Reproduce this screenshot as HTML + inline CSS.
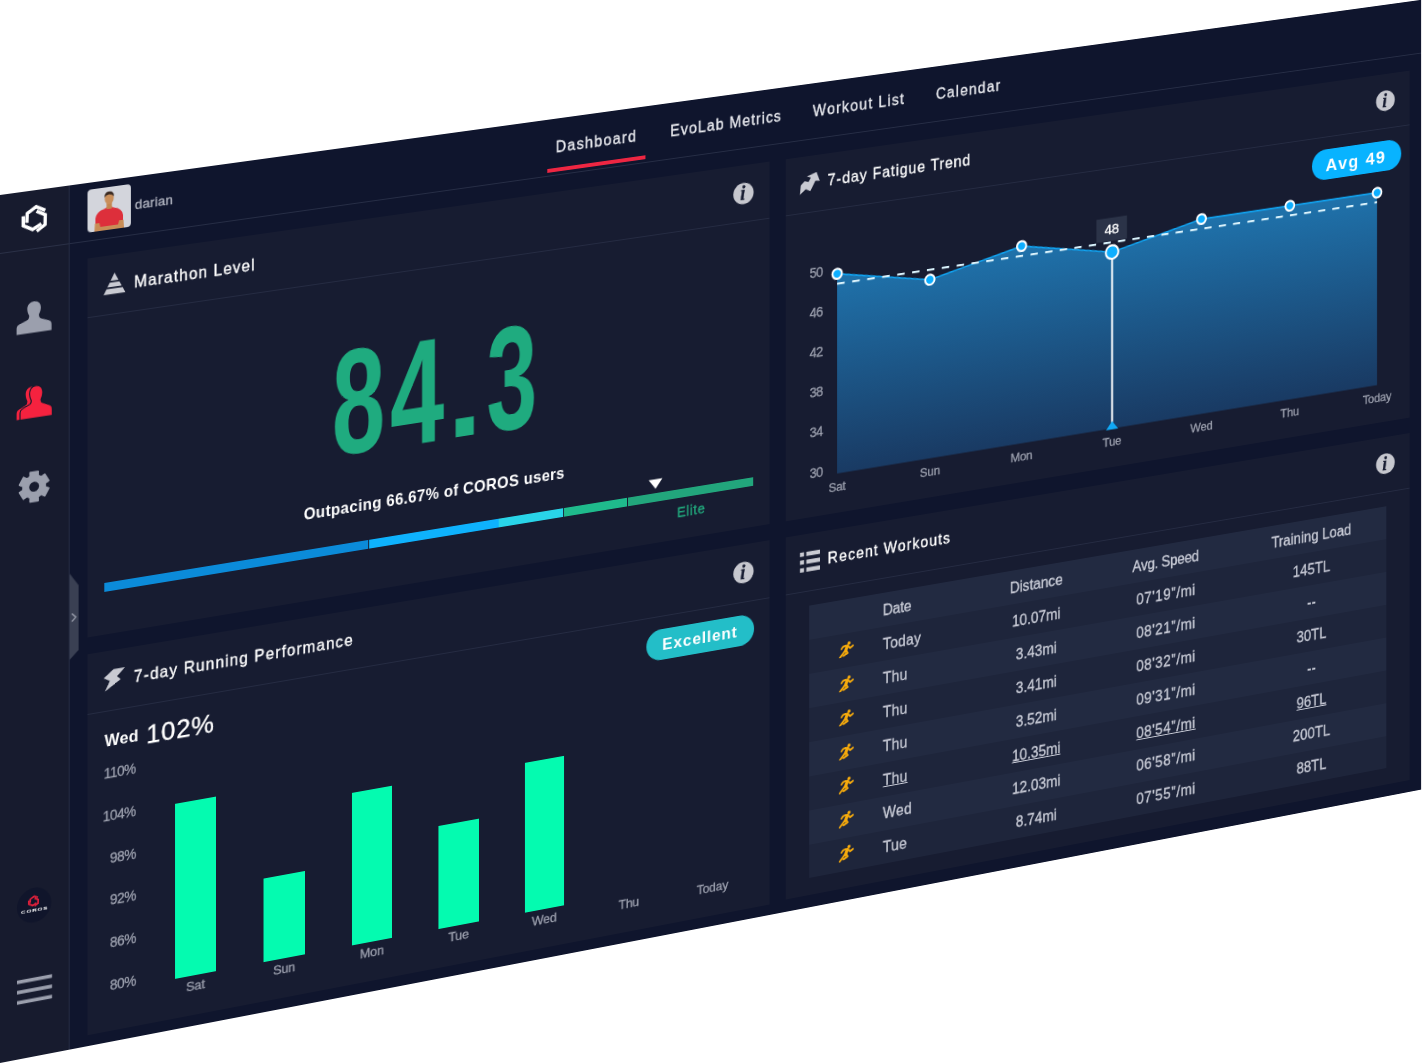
<!DOCTYPE html>
<html lang="en">
<head>
<meta charset="utf-8">
<title>COROS Training Hub</title>
<style>
html,body{margin:0;padding:0;background:#fff;}
body{width:1422px;height:1064px;overflow:hidden;position:relative;font-family:"Liberation Sans",sans-serif;}
#stage{position:absolute;left:0;top:0;width:1561.6px;height:867.5px;background:#0f152d;outline:1px solid transparent;transform-origin:0 0;
 transform:matrix3d(1,-0.124952,0,0.0000634371,0,1,0,0,0,0,1,0,0,195,0,1);overflow:hidden;color:#fff;}
#stage *{box-sizing:border-box;}
.abs{position:absolute;}
.tx{position:absolute;white-space:nowrap;line-height:1;-webkit-text-stroke:0.3px currentColor;}
#sidebar{position:absolute;left:0;top:0;width:70px;height:100%;background:#171b2e;border-right:1px solid #262c42;}
#sidebar .logo{position:absolute;left:0;top:0;width:69px;height:59px;border-bottom:1px solid #2a3046;}
#header{position:absolute;left:70px;top:0;right:0;height:59px;border-bottom:1px solid #262d45;background:#0f152d;}
.avatar{position:absolute;left:87.7px;top:7px;width:44px;height:43px;border-radius:4px;overflow:hidden;}
.avatar svg{display:block;}
.panel{position:absolute;background:#171c31;}
.ptitle{position:absolute;left:0;top:0;right:0;height:59px;border-bottom:1px solid #252b42;}
.pill{position:absolute;border-radius:20px;}
.big{position:absolute;font-weight:bold;line-height:1;color:#1fab7f;transform-origin:0 84.65%;white-space:nowrap;}
.ii{font-family:"Liberation Serif",serif;font-weight:bold;font-style:italic;font-size:20px;color:#171c31;-webkit-text-stroke:0.4px #171c31;}
</style>
</head>
<body>
<div id="stage">
<div id="sidebar"><div class="logo"></div></div>
<div id="header">
</div>
<div class="avatar"><svg width="44" height="43" viewBox="0 0 44 43"><rect width="44" height="43" fill="#d3d5dc"/><path d="M8 43 L8 30 Q9 23 17 21.5 L20 20 L24 20 L27 21.5 Q35 23 36 30 L36 43 Z" fill="#dd2f3b"/><path d="M7 43 L7.5 35 L12 35 L13 39 L31 39 L32 35 L36.5 35 L37 43 Z" fill="#c88d57"/><rect x="19.3" y="15" width="5.4" height="7" fill="#c48650"/><ellipse cx="22" cy="11.5" rx="4.6" ry="5.8" fill="#c98f5b"/><path d="M17.2 10 Q17 4.5 22 4.5 Q27 4.5 26.8 10 Q25 7.2 22 7.4 Q19 7.2 17.2 10Z" fill="#3a2a22"/></svg></div>
<span class="tx" style="left:136.0px;top:22.1px;font-size:13.63px;color:#b3b6c2;letter-spacing:0.17px;">darian</span>
<span class="tx" style="left:575.9px;top:22.2px;font-size:15.60px;color:#e9eaef;letter-spacing:1.32px;">Dashboard</span>
<span class="tx" style="left:700.0px;top:22.1px;font-size:15.60px;color:#e9eaef;letter-spacing:1.09px;">EvoLab Metrics</span>
<span class="tx" style="left:857.1px;top:22.1px;font-size:15.60px;color:#e9eaef;letter-spacing:1.39px;">Workout List</span>
<span class="tx" style="left:994.9px;top:21.9px;font-size:15.60px;color:#e9eaef;letter-spacing:1.39px;">Calendar</span>
<div class="abs" style="left:566.7px;top:51px;width:106.6px;height:4px;background:#ee2642;"></div>
<div class="panel" id="p1" style="left:88.0px;top:76.0px;width:721.0px;height:380.5px;"><div class="ptitle" style="height:60px"></div></div>
<div class="panel" id="p2" style="left:88.0px;top:473.5px;width:721.0px;height:383.0px;"><div class="ptitle" style="height:61px"></div></div>
<div class="panel" id="p3" style="left:826.5px;top:76.0px;width:721.0px;height:380.5px;"><div class="ptitle" style="height:60px"></div></div>
<div class="panel" id="p4" style="left:826.5px;top:473.5px;width:721.0px;height:381.8px;"><div class="ptitle" style="height:61px"></div></div>
<span class="tx" style="left:135.2px;top:98.7px;font-size:15.79px;color:#fff;letter-spacing:1.14px;">Marathon Level</span>
<span class="tx" style="left:135.0px;top:497.0px;font-size:15.79px;color:#fff;letter-spacing:1.18px;">7-day Running Performance</span>
<span class="tx" style="left:873.5px;top:97.4px;font-size:15.79px;color:#fff;letter-spacing:1.06px;">7-day Fatigue Trend</span>
<span class="tx" style="left:873.6px;top:496.3px;font-size:15.79px;color:#fff;letter-spacing:1.18px;">Recent Workouts</span>
<div class="score" aria-label="84.3"><span class="big" style="left:339.3px;top:183.7px;font-size:153px;transform:scale(0.655,1.000);">8</span><span class="big" style="left:400.4px;top:183.7px;font-size:153px;transform:scale(0.672,1.000);">4</span><span class="big" style="left:460.4px;top:183.7px;font-size:153px;transform:scale(0.890,0.820);">.</span><span class="big" style="left:502.3px;top:183.7px;font-size:153px;transform:scale(0.637,1.000);">3</span></div>
<span class="tx" style="left:309.7px;top:361.2px;font-size:15.79px;color:#fff;font-weight:bold;-webkit-text-stroke:0;letter-spacing:0.39px;">Outpacing 66.67% of COROS users</span>
<span class="tx" style="left:707.4px;top:421.5px;font-size:14.10px;color:#22a97d;letter-spacing:0.74px;">Elite</span>
<div class="abs" style="left:105.4px;top:405px;width:271.7px;height:8.6px;background:#0b8bd9;"></div>
<div class="abs" style="left:377.9px;top:405px;width:136.7px;height:8.6px;background:#0eb2fd;"></div>
<div class="abs" style="left:515.4px;top:405px;width:68.9px;height:8.6px;background:#29d4e8;"></div>
<div class="abs" style="left:585.1px;top:405px;width:68.4px;height:8.6px;background:#1fba8c;"></div>
<div class="abs" style="left:654.3px;top:405px;width:136.6px;height:8.6px;background:#22a67c;"></div>
<svg class="abs" style="left:675.6px;top:389.9px" width="16" height="11" viewBox="0 0 16 11"><path d="M0.5 0.5 H15.5 L8 10.5 Z" fill="#fff"/></svg>
<span class="tx" style="left:105.2px;top:556.1px;font-size:16.17px;color:#fff;font-weight:bold;-webkit-text-stroke:0;letter-spacing:0.29px;">Wed</span>
<span class="tx" style="left:147.4px;top:551.8px;font-size:26.32px;color:#fff;letter-spacing:0.77px;">102%</span>
<div class="pill" style="left:673.7px;top:548.4px;width:118px;height:31.6px;background:#23bec8;"></div>
<span class="tx" style="left:691.3px;top:556.8px;font-size:16.92px;color:#fff;font-weight:bold;-webkit-text-stroke:0;letter-spacing:0.92px;">Excellent</span>
<span class="tx" style="left:110.8px;top:804.7px;font-size:13.80px;color:#9b9fad;letter-spacing:-0.50px;">80%</span>
<span class="tx" style="left:110.8px;top:762.0px;font-size:13.80px;color:#9b9fad;letter-spacing:-0.50px;">86%</span>
<span class="tx" style="left:110.8px;top:719.4px;font-size:13.80px;color:#9b9fad;letter-spacing:-0.50px;">92%</span>
<span class="tx" style="left:110.8px;top:676.7px;font-size:13.80px;color:#9b9fad;letter-spacing:-0.50px;">98%</span>
<span class="tx" style="left:103.6px;top:634.0px;font-size:13.80px;color:#9b9fad;letter-spacing:-0.50px;">104%</span>
<span class="tx" style="left:104.6px;top:591.4px;font-size:13.80px;color:#9b9fad;letter-spacing:-0.50px;">110%</span>
<div class="abs" style="left:177.0px;top:640.3px;width:42.2px;height:177.0px;background:#04fbb0;"></div>
<div class="abs" style="left:268.4px;top:732.3px;width:42.2px;height:85.0px;background:#04fbb0;"></div>
<div class="abs" style="left:359.8px;top:661.4px;width:42.2px;height:155.9px;background:#04fbb0;"></div>
<div class="abs" style="left:451.4px;top:711.1px;width:42.2px;height:106.2px;background:#04fbb0;"></div>
<div class="abs" style="left:542.9px;top:661.5px;width:42.2px;height:155.8px;background:#04fbb0;"></div>
<span class="tx" style="left:188.2px;top:821.4px;font-size:13.20px;color:#9b9fad;letter-spacing:-0.20px;">Sat</span>
<span class="tx" style="left:277.9px;top:821.4px;font-size:13.20px;color:#9b9fad;letter-spacing:-0.20px;">Sun</span>
<span class="tx" style="left:368.3px;top:821.4px;font-size:13.20px;color:#9b9fad;letter-spacing:-0.20px;">Mon</span>
<span class="tx" style="left:461.4px;top:821.4px;font-size:13.20px;color:#9b9fad;letter-spacing:-0.20px;">Tue</span>
<span class="tx" style="left:550.6px;top:821.4px;font-size:13.20px;color:#9b9fad;letter-spacing:-0.20px;">Wed</span>
<span class="tx" style="left:643.8px;top:821.4px;font-size:13.20px;color:#9b9fad;letter-spacing:-0.20px;">Thu</span>
<span class="tx" style="left:729.1px;top:821.4px;font-size:13.20px;color:#9b9fad;letter-spacing:-0.20px;">Today</span>
<div class="pill" style="left:1430.8px;top:149.2px;width:107.6px;height:33px;background:#08b3ff;"></div>
<span class="tx" style="left:1447.3px;top:157.3px;font-size:19.27px;color:#fff;font-weight:bold;-webkit-text-stroke:0;letter-spacing:1.70px;">Avg 49</span>
<svg class="abs" style="left:0;top:0" width="1561" height="868" viewBox="0 0 1561 868"><defs><linearGradient id="ag" x1="0" y1="0" x2="0" y2="1"><stop offset="0" stop-color="#1f72ab"/><stop offset="1" stop-color="#193a63"/></linearGradient></defs><polygon points="884.1,204.6 988.2,225.7 1092.4,204.6 1196.5,225.7 1300.6,204.6 1404.8,204.6 1508.9,204.6 1508.9,415.6 884.1,415.6" fill="url(#ag)"/><polyline points="884.1,204.6 988.2,225.7 1092.4,204.6 1196.5,225.7 1300.6,204.6 1404.8,204.6 1508.9,204.6" fill="none" stroke="#10a4f2" stroke-width="1.6"/><line x1="884.1" y1="215.2" x2="1508.9" y2="215.2" stroke="#d8f1fb" stroke-width="2.2" stroke-dasharray="8.4 8.4"/><line x1="1196.5" y1="225.7" x2="1196.5" y2="415.6" stroke="#fff" stroke-width="2.2"/><path d="M1196.5 416.6 l-7 0 l7 -9 l7 9z" fill="#10a8f5"/><circle cx="884.1" cy="204.6" r="5.3" fill="#0daeff" stroke="#fff" stroke-width="2.2"/><circle cx="988.2" cy="225.7" r="5.3" fill="#0daeff" stroke="#fff" stroke-width="2.2"/><circle cx="1092.4" cy="204.6" r="5.3" fill="#0daeff" stroke="#fff" stroke-width="2.2"/><circle cx="1196.5" cy="225.7" r="7.3" fill="#0daeff" stroke="#fff" stroke-width="2.2"/><circle cx="1300.6" cy="204.6" r="5.3" fill="#0daeff" stroke="#fff" stroke-width="2.2"/><circle cx="1404.8" cy="204.6" r="5.3" fill="#0daeff" stroke="#fff" stroke-width="2.2"/><circle cx="1508.9" cy="204.6" r="5.3" fill="#0daeff" stroke="#fff" stroke-width="2.2"/><rect x="1178.4" y="188.6" width="35.4" height="25" fill="#2b3348"/></svg>
<span class="tx" style="left:1187.7px;top:193.4px;font-size:15.40px;color:#fff;letter-spacing:-0.20px;">48</span>
<span class="tx" style="left:853.5px;top:403.6px;font-size:14.00px;color:#9b9fad;letter-spacing:-0.50px;">30</span>
<span class="tx" style="left:853.5px;top:361.4px;font-size:14.00px;color:#9b9fad;letter-spacing:-0.50px;">34</span>
<span class="tx" style="left:853.5px;top:319.2px;font-size:14.00px;color:#9b9fad;letter-spacing:-0.50px;">38</span>
<span class="tx" style="left:853.5px;top:277.0px;font-size:14.00px;color:#9b9fad;letter-spacing:-0.50px;">42</span>
<span class="tx" style="left:853.5px;top:234.8px;font-size:14.00px;color:#9b9fad;letter-spacing:-0.50px;">46</span>
<span class="tx" style="left:853.5px;top:192.6px;font-size:14.00px;color:#9b9fad;letter-spacing:-0.50px;">50</span>
<span class="tx" style="left:874.4px;top:422.6px;font-size:13.20px;color:#9b9fad;letter-spacing:-0.20px;">Sat</span>
<span class="tx" style="left:976.7px;top:422.6px;font-size:13.20px;color:#9b9fad;letter-spacing:-0.20px;">Sun</span>
<span class="tx" style="left:1079.7px;top:422.6px;font-size:13.20px;color:#9b9fad;letter-spacing:-0.20px;">Mon</span>
<span class="tx" style="left:1185.6px;top:422.6px;font-size:13.20px;color:#9b9fad;letter-spacing:-0.20px;">Tue</span>
<span class="tx" style="left:1287.4px;top:422.6px;font-size:13.20px;color:#9b9fad;letter-spacing:-0.20px;">Wed</span>
<span class="tx" style="left:1393.6px;top:422.6px;font-size:13.20px;color:#9b9fad;letter-spacing:-0.20px;">Thu</span>
<span class="tx" style="left:1491.7px;top:422.6px;font-size:13.20px;color:#9b9fad;letter-spacing:-0.20px;">Today</span>
<div class="abs" style="left:853.0px;top:550.3px;width:667.3px;height:287.2px;background:#1e253b;"></div>
<div class="abs" style="left:853.0px;top:550.3px;width:667.3px;height:35.9px;background:#222a41;"></div>
<span class="tx" style="left:935.3px;top:561.0px;font-size:15.60px;color:#c9ccd7;letter-spacing:-0.25px;">Date</span>
<span class="tx" style="left:1078.9px;top:561.0px;font-size:15.60px;color:#c9ccd7;">Distance</span>
<span class="tx" style="left:1220.1px;top:561.0px;font-size:15.60px;color:#c9ccd7;letter-spacing:-0.30px;">Avg. Speed</span>
<span class="tx" style="left:1382.9px;top:561.0px;font-size:15.60px;color:#c9ccd7;letter-spacing:0.03px;">Training Load</span>
<span class="tx" style="left:935.3px;top:596.9px;font-size:15.60px;color:#c9ccd7;letter-spacing:0.30px;">Today</span>
<span class="tx" style="left:1081.4px;top:596.9px;font-size:15.60px;color:#c9ccd7;">10.07mi</span>
<span class="tx" style="left:1224.5px;top:596.9px;font-size:15.60px;color:#c9ccd7;letter-spacing:0.60px;">07'19"/mi</span>
<span class="tx" style="left:1408.3px;top:596.9px;font-size:15.60px;color:#c9ccd7;letter-spacing:0.03px;">145TL</span>
<svg class="abs" style="left:886.0px;top:594.8px" width="16.5" height="16.5" viewBox="0 0 16 16"><g fill="none" stroke="#f8ac0c" stroke-linecap="round" stroke-linejoin="round"><circle cx="11" cy="1.8" r="1.75" fill="#f8ac0c" stroke="none"/><path d="M9.2 4.4L7.1 9.6" stroke-width="3.3"/><path d="M10 4.4L12.1 6.9L15.3 4.9" stroke-width="1.9"/><path d="M7.4 3.9L4.4 4.6L2.9 6.7" stroke-width="1.9"/><path d="M8 9.3L9.5 11.6L5 13.8" stroke-width="2"/><path d="M6.2 9.6L1 15.4" stroke-width="2"/></g></svg>
<div class="abs" style="left:853.0px;top:622.1px;width:667.3px;height:35.9px;background:#222a41;"></div>
<span class="tx" style="left:935.3px;top:632.8px;font-size:15.60px;color:#c9ccd7;letter-spacing:0.30px;">Thu</span>
<span class="tx" style="left:1085.8px;top:632.8px;font-size:15.60px;color:#c9ccd7;">3.43mi</span>
<span class="tx" style="left:1224.5px;top:632.8px;font-size:15.60px;color:#c9ccd7;letter-spacing:0.60px;">08'21"/mi</span>
<span class="tx" style="left:1425.3px;top:632.8px;font-size:15.60px;color:#c9ccd7;letter-spacing:0.03px;">--</span>
<svg class="abs" style="left:886.0px;top:630.6px" width="16.5" height="16.5" viewBox="0 0 16 16"><g fill="none" stroke="#f8ac0c" stroke-linecap="round" stroke-linejoin="round"><circle cx="11" cy="1.8" r="1.75" fill="#f8ac0c" stroke="none"/><path d="M9.2 4.4L7.1 9.6" stroke-width="3.3"/><path d="M10 4.4L12.1 6.9L15.3 4.9" stroke-width="1.9"/><path d="M7.4 3.9L4.4 4.6L2.9 6.7" stroke-width="1.9"/><path d="M8 9.3L9.5 11.6L5 13.8" stroke-width="2"/><path d="M6.2 9.6L1 15.4" stroke-width="2"/></g></svg>
<span class="tx" style="left:935.3px;top:668.7px;font-size:15.60px;color:#c9ccd7;letter-spacing:0.30px;">Thu</span>
<span class="tx" style="left:1085.8px;top:668.7px;font-size:15.60px;color:#c9ccd7;">3.41mi</span>
<span class="tx" style="left:1224.5px;top:668.7px;font-size:15.60px;color:#c9ccd7;letter-spacing:0.60px;">08'32"/mi</span>
<span class="tx" style="left:1412.7px;top:668.7px;font-size:15.60px;color:#c9ccd7;letter-spacing:0.03px;">30TL</span>
<svg class="abs" style="left:886.0px;top:666.6px" width="16.5" height="16.5" viewBox="0 0 16 16"><g fill="none" stroke="#f8ac0c" stroke-linecap="round" stroke-linejoin="round"><circle cx="11" cy="1.8" r="1.75" fill="#f8ac0c" stroke="none"/><path d="M9.2 4.4L7.1 9.6" stroke-width="3.3"/><path d="M10 4.4L12.1 6.9L15.3 4.9" stroke-width="1.9"/><path d="M7.4 3.9L4.4 4.6L2.9 6.7" stroke-width="1.9"/><path d="M8 9.3L9.5 11.6L5 13.8" stroke-width="2"/><path d="M6.2 9.6L1 15.4" stroke-width="2"/></g></svg>
<div class="abs" style="left:853.0px;top:693.9px;width:667.3px;height:35.9px;background:#222a41;"></div>
<span class="tx" style="left:935.3px;top:704.6px;font-size:15.60px;color:#c9ccd7;letter-spacing:0.30px;">Thu</span>
<span class="tx" style="left:1085.8px;top:704.6px;font-size:15.60px;color:#c9ccd7;">3.52mi</span>
<span class="tx" style="left:1224.5px;top:704.6px;font-size:15.60px;color:#c9ccd7;letter-spacing:0.60px;">09'31"/mi</span>
<span class="tx" style="left:1425.3px;top:704.6px;font-size:15.60px;color:#c9ccd7;letter-spacing:0.03px;">--</span>
<svg class="abs" style="left:886.0px;top:702.5px" width="16.5" height="16.5" viewBox="0 0 16 16"><g fill="none" stroke="#f8ac0c" stroke-linecap="round" stroke-linejoin="round"><circle cx="11" cy="1.8" r="1.75" fill="#f8ac0c" stroke="none"/><path d="M9.2 4.4L7.1 9.6" stroke-width="3.3"/><path d="M10 4.4L12.1 6.9L15.3 4.9" stroke-width="1.9"/><path d="M7.4 3.9L4.4 4.6L2.9 6.7" stroke-width="1.9"/><path d="M8 9.3L9.5 11.6L5 13.8" stroke-width="2"/><path d="M6.2 9.6L1 15.4" stroke-width="2"/></g></svg>
<span class="tx" style="left:935.3px;top:740.5px;font-size:15.60px;color:#c9ccd7;letter-spacing:0.30px;text-decoration:underline;">Thu</span>
<span class="tx" style="left:1081.4px;top:740.5px;font-size:15.60px;color:#c9ccd7;text-decoration:underline;">10.35mi</span>
<span class="tx" style="left:1224.5px;top:740.5px;font-size:15.60px;color:#c9ccd7;letter-spacing:0.60px;text-decoration:underline;">08'54"/mi</span>
<span class="tx" style="left:1412.7px;top:740.5px;font-size:15.60px;color:#c9ccd7;letter-spacing:0.03px;text-decoration:underline;">96TL</span>
<svg class="abs" style="left:886.0px;top:738.4px" width="16.5" height="16.5" viewBox="0 0 16 16"><g fill="none" stroke="#f8ac0c" stroke-linecap="round" stroke-linejoin="round"><circle cx="11" cy="1.8" r="1.75" fill="#f8ac0c" stroke="none"/><path d="M9.2 4.4L7.1 9.6" stroke-width="3.3"/><path d="M10 4.4L12.1 6.9L15.3 4.9" stroke-width="1.9"/><path d="M7.4 3.9L4.4 4.6L2.9 6.7" stroke-width="1.9"/><path d="M8 9.3L9.5 11.6L5 13.8" stroke-width="2"/><path d="M6.2 9.6L1 15.4" stroke-width="2"/></g></svg>
<div class="abs" style="left:853.0px;top:765.7px;width:667.3px;height:35.9px;background:#222a41;"></div>
<span class="tx" style="left:935.3px;top:776.4px;font-size:15.60px;color:#c9ccd7;letter-spacing:0.30px;">Wed</span>
<span class="tx" style="left:1081.4px;top:776.4px;font-size:15.60px;color:#c9ccd7;">12.03mi</span>
<span class="tx" style="left:1224.5px;top:776.4px;font-size:15.60px;color:#c9ccd7;letter-spacing:0.60px;">06'58"/mi</span>
<span class="tx" style="left:1408.3px;top:776.4px;font-size:15.60px;color:#c9ccd7;letter-spacing:0.03px;">200TL</span>
<svg class="abs" style="left:886.0px;top:774.2px" width="16.5" height="16.5" viewBox="0 0 16 16"><g fill="none" stroke="#f8ac0c" stroke-linecap="round" stroke-linejoin="round"><circle cx="11" cy="1.8" r="1.75" fill="#f8ac0c" stroke="none"/><path d="M9.2 4.4L7.1 9.6" stroke-width="3.3"/><path d="M10 4.4L12.1 6.9L15.3 4.9" stroke-width="1.9"/><path d="M7.4 3.9L4.4 4.6L2.9 6.7" stroke-width="1.9"/><path d="M8 9.3L9.5 11.6L5 13.8" stroke-width="2"/><path d="M6.2 9.6L1 15.4" stroke-width="2"/></g></svg>
<span class="tx" style="left:935.3px;top:812.3px;font-size:15.60px;color:#c9ccd7;letter-spacing:0.30px;">Tue</span>
<span class="tx" style="left:1085.8px;top:812.3px;font-size:15.60px;color:#c9ccd7;">8.74mi</span>
<span class="tx" style="left:1224.5px;top:812.3px;font-size:15.60px;color:#c9ccd7;letter-spacing:0.60px;">07'55"/mi</span>
<span class="tx" style="left:1412.7px;top:812.3px;font-size:15.60px;color:#c9ccd7;letter-spacing:0.03px;">88TL</span>
<svg class="abs" style="left:886.0px;top:810.1px" width="16.5" height="16.5" viewBox="0 0 16 16"><g fill="none" stroke="#f8ac0c" stroke-linecap="round" stroke-linejoin="round"><circle cx="11" cy="1.8" r="1.75" fill="#f8ac0c" stroke="none"/><path d="M9.2 4.4L7.1 9.6" stroke-width="3.3"/><path d="M10 4.4L12.1 6.9L15.3 4.9" stroke-width="1.9"/><path d="M7.4 3.9L4.4 4.6L2.9 6.7" stroke-width="1.9"/><path d="M8 9.3L9.5 11.6L5 13.8" stroke-width="2"/><path d="M6.2 9.6L1 15.4" stroke-width="2"/></g></svg>
<svg class="abs" style="left:0;top:0" width="1561" height="868" viewBox="0 0 1561 868"><polyline points="26.9,31.6 27.3,22.2 36.2,16.8 45.4,21.5" fill="none" stroke="#fff" stroke-width="3.4" stroke-linejoin="miter"/><polyline points="36.6,21.2 45.4,26.1 45.2,35.8 36.8,41.3" fill="none" stroke="#fff" stroke-width="3.4" stroke-linejoin="miter"/><polyline points="23.3,24.5 23.3,34.0 32.7,39.1 41.4,34.5" fill="none" stroke="#fff" stroke-width="3.4" stroke-linejoin="miter"/><path transform="translate(16.6,111.2) scale(0.975,0.98)" d="M18 0C22.5 0 25 3 25 7.2C25 9.8 24 12.2 23 14.2C23 16.2 23.5 17.6 25 18.3L33 21.6C35 22.4 36 23.6 36 26L36 32L0 32L0 26C0 23.6 1 22.4 3 21.6L11 18.3C12.5 17.6 13 16.2 13 14.2C12 12.2 11 9.8 11 7.2C11 3 13.5 0 18 0Z" fill="#9b9fad"/><path transform="translate(16.6,196.4) scale(0.83,0.98)" d="M18 0C22.5 0 25 3 25 7.2C25 9.8 24 12.2 23 14.2C23 16.2 23.5 17.6 25 18.3L33 21.6C35 22.4 36 23.6 36 26L36 32L0 32L0 26C0 23.6 1 22.4 3 21.6L11 18.3C12.5 17.6 13 16.2 13 14.2C12 12.2 11 9.8 11 7.2C11 3 13.5 0 18 0Z" fill="#f5223f"/><path transform="translate(20.6,196.4) scale(0.87,0.98)" d="M18 0C22.5 0 25 3 25 7.2C25 9.8 24 12.2 23 14.2C23 16.2 23.5 17.6 25 18.3L33 21.6C35 22.4 36 23.6 36 26L36 32L0 32L0 26C0 23.6 1 22.4 3 21.6L11 18.3C12.5 17.6 13 16.2 13 14.2C12 12.2 11 9.8 11 7.2C11 3 13.5 0 18 0Z" fill="#f5223f" stroke="#161b2d" stroke-width="2.6" paint-order="stroke"/><path d="M38.18 307.58 L38.25 311.65 L30.15 311.65 L30.22 307.58 L27.03 305.74 L23.54 307.84 L19.49 300.81 L23.05 298.84 L23.05 295.16 L19.49 293.19 L23.54 286.16 L27.03 288.26 L30.22 286.42 L30.15 282.35 L38.25 282.35 L38.18 286.42 L41.37 288.26 L44.86 286.16 L48.91 293.19 L45.35 295.16 L45.35 298.84 L48.91 300.81 L44.86 307.84 L41.37 305.74Z M34.20 291.20 a5.8 5.8 0 1 0 0.01 0Z" fill="#9b9fad" fill-rule="evenodd" stroke="#9b9fad" stroke-width="1.6" stroke-linejoin="round"/><rect x="17" y="788.9" width="35.2" height="3.6" fill="#9b9fad"/><rect x="17" y="799.2" width="35.2" height="3.6" fill="#9b9fad"/><rect x="17" y="809.5" width="35.2" height="3.6" fill="#9b9fad"/><circle cx="34.2" cy="716.3" r="17.2" fill="#10152b"/><g fill="none" stroke="#e6213c" stroke-width="1.7"><polyline points="30.2,713.6 30.3,709.9 34.2,707.5 38.0,709.2"/><polyline points="34.6,709.4 38.2,711.4 38.1,715.2 34.6,717.4"/><polyline points="28.9,710.8 28.9,714.6 32.8,716.6 36.4,714.6"/></g><polygon points="115.4,94.1 115.4,94.1 119.4,101.7 111.4,101.7" fill="#c9cad2"/><polygon points="110.5,103.4 120.3,103.4 122.7,108.0 108.1,108.0" fill="#c9cad2"/><polygon points="107.2,109.7 123.6,109.7 126.4,115.2 104.3,115.2" fill="#c9cad2"/><polygon points="126.0,493.2 114.4,493.2 104.4,501.0 110.6,504.6 105.6,514.4 121.7,504.6 117.9,501.0" fill="#c9cad2"/><polygon points="861.2,94.1 850.4,97.3 854.9,99.0 852.3,103.3 847.9,101.9 843.7,105.7 842.7,115.8 849.1,110.5 854.2,113.2 859.9,103.0 864.8,103.7" fill="#c9cad2"/><rect x="842.8" y="492.8" width="4.4" height="4.4" fill="#c9cad2"/><rect x="849.8" y="492.8" width="15.2" height="4.4" fill="#c9cad2"/><rect x="842.8" y="501.1" width="4.4" height="4.4" fill="#c9cad2"/><rect x="849.8" y="501.1" width="15.2" height="4.4" fill="#c9cad2"/><rect x="842.8" y="509.4" width="4.4" height="4.4" fill="#c9cad2"/><rect x="849.8" y="509.4" width="15.2" height="4.4" fill="#c9cad2"/><circle cx="780.3" cy="105.6" r="11.2" fill="#c6c7ce"/><circle cx="1518.9" cy="105.2" r="11.2" fill="#c6c7ce"/><circle cx="1518.9" cy="503.1" r="11.2" fill="#c6c7ce"/><circle cx="780.3" cy="503.4" r="11.2" fill="#c6c7ce"/><polygon points="70,390 79,403 79,468 70,476.5" fill="#3a4053"/><polyline points="72.2,430.5 76.2,434.5 72.2,438.5" fill="none" stroke="#9da1ae" stroke-width="1.2"/></svg>
<span class="tx ii" style="left:776.7px;top:95.4px;">i</span>
<span class="tx ii" style="left:1515.3px;top:95.0px;">i</span>
<span class="tx ii" style="left:1515.3px;top:492.9px;">i</span>
<span class="tx ii" style="left:776.7px;top:493.2px;">i</span>
<span class="tx" style="left:21.0px;top:718.8px;font-size:6.40px;color:#fff;font-weight:bold;-webkit-text-stroke:0;letter-spacing:0.80px;transform:scaleY(0.6);-webkit-text-stroke:0;">COROS</span>
</div>
</body>
</html>
